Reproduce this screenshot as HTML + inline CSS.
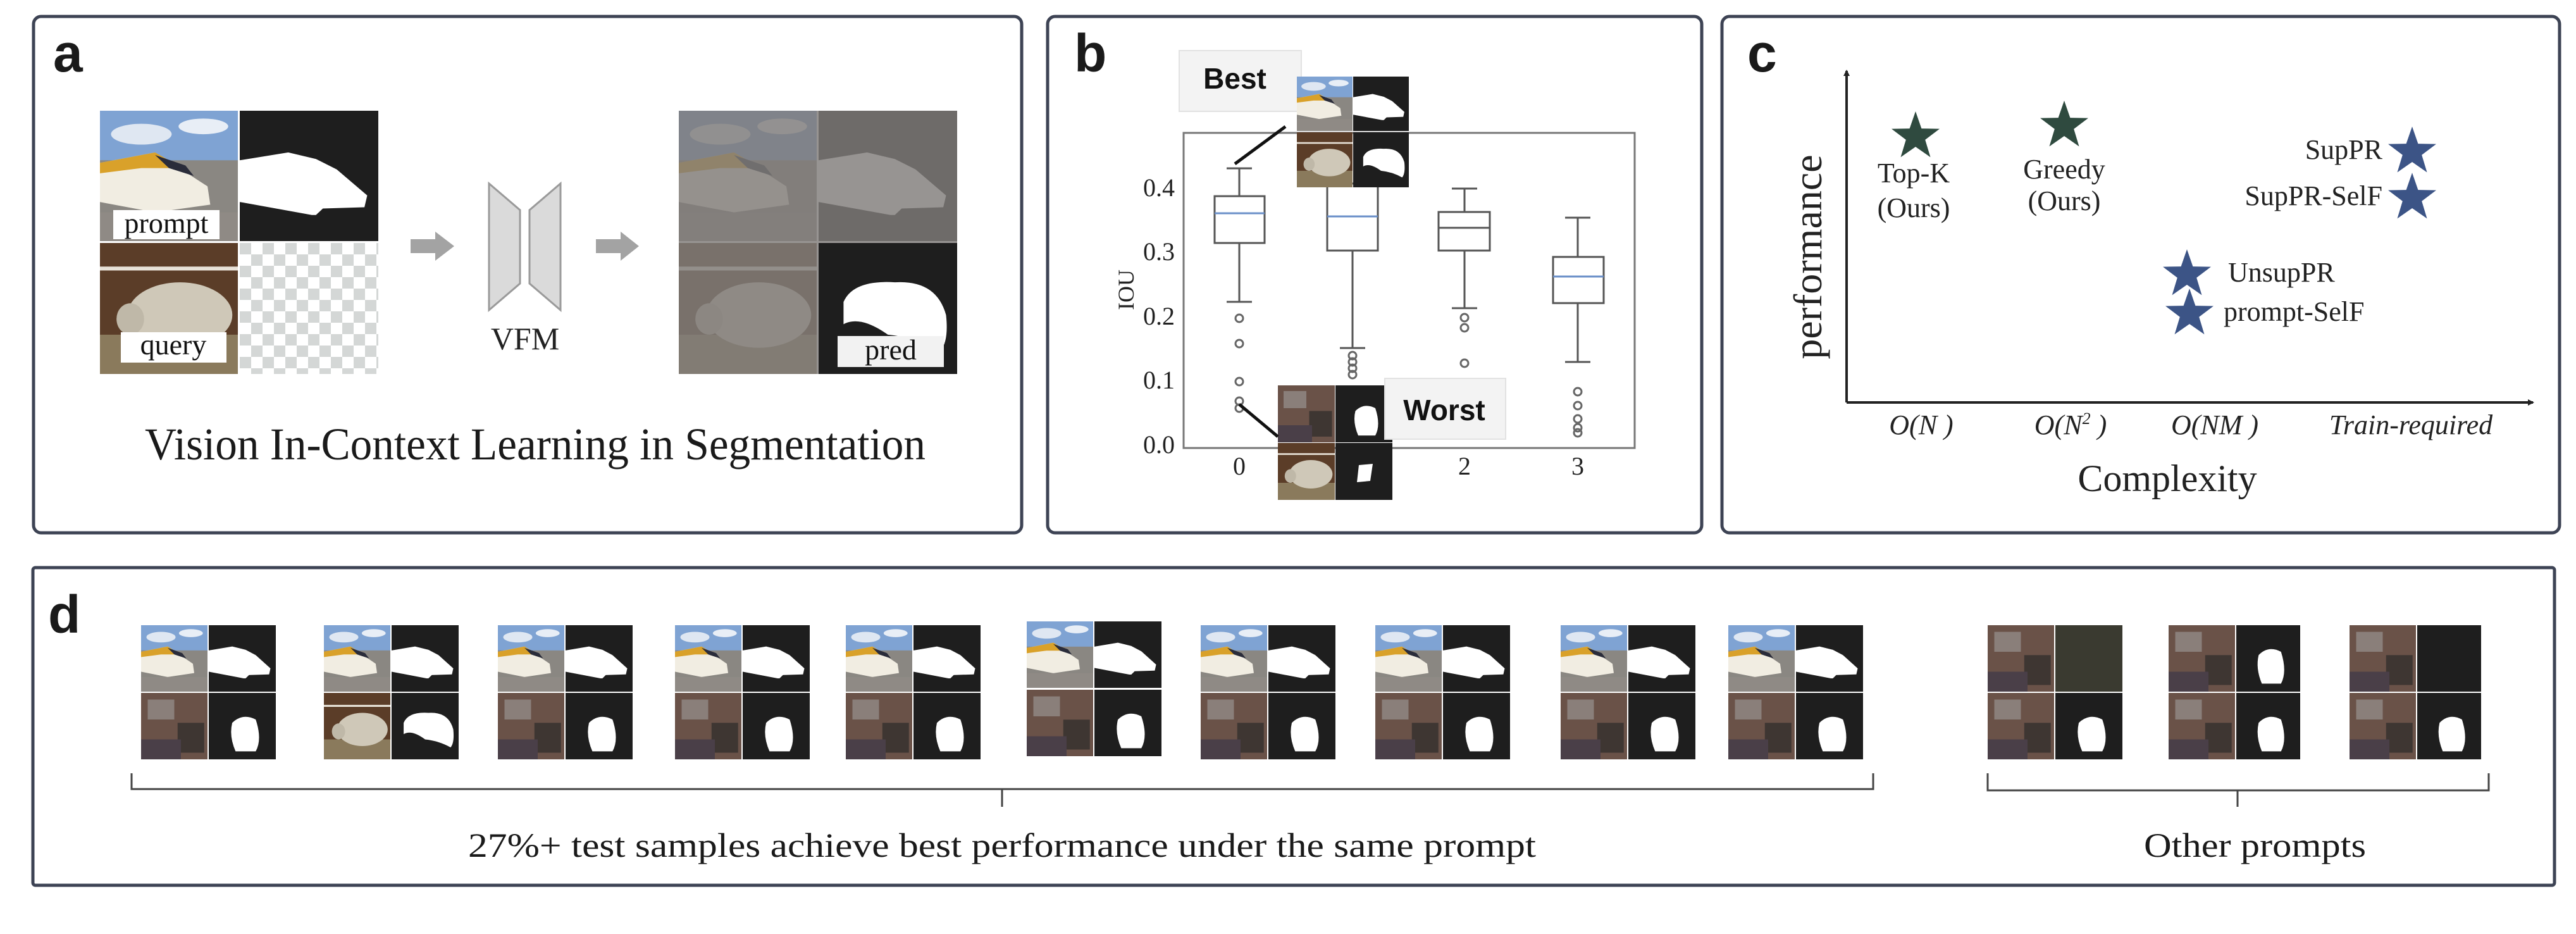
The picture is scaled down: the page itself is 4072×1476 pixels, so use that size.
<!DOCTYPE html>
<html><head><meta charset="utf-8"><style>
html,body{margin:0;padding:0;background:#fff;}
svg{display:block;}
.serif{font-family:"Liberation Serif",serif;}
.sans{font-family:"Liberation Sans",sans-serif;}
</style></head><body>
<svg width="4072" height="1476" viewBox="0 0 4072 1476" xmlns="http://www.w3.org/2000/svg">
<defs>
<symbol id="train" viewBox="0 0 100 100" preserveAspectRatio="none">
<rect width="100" height="100" fill="#8a8782"/>
<rect width="100" height="38" fill="#7fa3d3"/>
<ellipse cx="30" cy="18" rx="22" ry="8" fill="#dfe7f2"/>
<ellipse cx="75" cy="12" rx="18" ry="6" fill="#e8eef6"/>
<polygon points="0,40 40,32 78,58 80,72 40,78 0,70" fill="#f1ede2"/>
<polygon points="0,40 40,32 60,44 30,44 0,48" fill="#d9a12a"/>
<polygon points="40,34 62,42 68,50 50,44" fill="#2a2c3a"/>
<rect y="78" width="100" height="22" fill="#8f8a85"/>
</symbol>
<symbol id="trainmask" viewBox="0 0 100 100" preserveAspectRatio="none">
<rect width="100" height="100" fill="#1e1e1e"/>
<polygon points="0,38 35,32 55,37 70,45 92,65 90,74 60,75 55,80 52,80 0,70" fill="#fff"/>
</symbol>
<symbol id="sheep" viewBox="0 0 100 100" preserveAspectRatio="none">
<rect width="100" height="100" fill="#5b3d28"/>
<rect y="18" width="100" height="3" fill="#e8e2d8"/>
<rect y="70" width="100" height="30" fill="#8a7a5c"/>
<ellipse cx="58" cy="55" rx="38" ry="25" fill="#cfc8b8"/>
<ellipse cx="22" cy="58" rx="10" ry="12" fill="#bfb8a8"/>
</symbol>
<symbol id="sheepmask" viewBox="0 0 100 100" preserveAspectRatio="none">
<rect width="100" height="100" fill="#1e1e1e"/>
<path d="M18,45 Q25,28 55,30 Q85,28 92,55 Q94,75 88,82 Q70,72 50,70 Q30,55 18,62 Z" fill="#fff"/>
</symbol>
<symbol id="misc" viewBox="0 0 100 100" preserveAspectRatio="none">
<rect width="100" height="100" fill="#6a5248"/>
<rect x="10" y="10" width="40" height="30" fill="#8a7f7a"/>
<rect x="55" y="45" width="40" height="45" fill="#3e3632"/>
<rect y="70" width="60" height="30" fill="#4a3f48"/>
</symbol>
<symbol id="miscmask" viewBox="0 0 100 100" preserveAspectRatio="none">
<rect width="100" height="100" fill="#1e1e1e"/>
<path d="M35,45 Q50,30 70,40 Q80,70 70,88 L40,88 Q30,65 35,45 Z" fill="#fff"/>
</symbol>
<pattern id="chk" width="36" height="36" patternUnits="userSpaceOnUse" x="379" y="384">
<rect width="36" height="36" fill="#fff"/><rect width="18" height="18" fill="#d4d7d6"/><rect x="18" y="18" width="18" height="18" fill="#d4d7d6"/>
</pattern>
<marker id="ah" markerWidth="10" markerHeight="10" refX="8" refY="5" orient="auto" markerUnits="userSpaceOnUse"><path d="M0,0 L10,5 L0,10 Z" fill="#222"/></marker>
<polygon id="star" points="0,-40 9.4,-12.9 38,-12.4 15.2,4.9 23.5,32.4 0,16 -23.5,32.4 -15.2,4.9 -38,-12.4 -9.4,-12.9"/>
</defs>

<!-- Panel frames -->
<g fill="#fff" stroke="#3d4354" stroke-width="5">
<rect x="53" y="26" width="1562" height="816" rx="12"/>
<rect x="1656" y="26" width="1034" height="816" rx="12"/>
<rect x="2722" y="26" width="1324" height="816" rx="12"/>
<rect x="52" y="897" width="3986" height="502" rx="4"/>
</g>
<g class="sans" font-weight="bold" font-size="84" fill="#1a1a1a">
<text x="84" y="113">a</text>
<text x="1698" y="113">b</text>
<text x="2762" y="113">c</text>
<text x="76" y="1000">d</text>
</g>

<!-- Panel a -->
<use href="#train" x="158" y="175" width="218" height="206"/>
<use href="#trainmask" x="379" y="175" width="219" height="206"/>
<use href="#sheep" x="158" y="384" width="218" height="207"/>
<rect x="379" y="384" width="219" height="207" fill="url(#chk)"/>
<rect x="179" y="332" width="168" height="46" fill="#fff"/>
<rect x="191" y="525" width="167" height="48" fill="#fff"/>
<text class="serif" x="263" y="368" font-size="46" text-anchor="middle" fill="#111">prompt</text>
<text class="serif" x="274" y="560" font-size="46" text-anchor="middle" fill="#111">query</text>
<polygon points="649,378 688,378 688,366 718,389 688,412 688,400 649,400" fill="#a3a3a3"/>
<polygon points="942,378 981,378 981,366 1010,389 981,412 981,400 942,400" fill="#a3a3a3"/>
<polygon points="773,290 822,332 822,448 773,490" fill="#dadada" stroke="#9a9a9a" stroke-width="3"/>
<polygon points="886,290 837,332 837,448 886,490" fill="#dadada" stroke="#9a9a9a" stroke-width="3"/>
<text class="serif" x="830" y="552" font-size="50" text-anchor="middle" fill="#222">VFM</text>
<use href="#train" x="1073" y="175" width="218" height="206"/>
<use href="#trainmask" x="1294" y="175" width="219" height="206"/>
<use href="#sheep" x="1073" y="384" width="218" height="207"/>
<rect x="1073" y="175" width="440" height="416" fill="#807c7a" opacity="0.82"/>
<use href="#sheepmask" x="1294" y="384" width="219" height="207"/>
<rect x="1324" y="531" width="168" height="49" fill="#f2f2f2"/>
<text class="serif" x="1408" y="568" font-size="46" text-anchor="middle" fill="#111">pred</text>
<text class="serif" x="846" y="726" font-size="72" text-anchor="middle" fill="#1a1a1a" textLength="1234" lengthAdjust="spacingAndGlyphs">Vision In-Context Learning in Segmentation</text>

<!-- Panel b -->
<rect x="1871" y="210" width="713" height="498" fill="none" stroke="#777" stroke-width="3"/>
<g class="serif" font-size="40" fill="#222" text-anchor="end">
<text x="1857" y="310">0.4</text><text x="1857" y="411">0.3</text><text x="1857" y="513">0.2</text><text x="1857" y="614">0.1</text><text x="1857" y="716">0.0</text>
</g>
<g class="serif" font-size="40" fill="#222" text-anchor="middle">
<text x="1959" y="750">0</text><text x="2315" y="750">2</text><text x="2494" y="750">3</text>
</g>
<text class="serif" font-size="36" fill="#222" text-anchor="middle" transform="translate(1792,458) rotate(-90)">IOU</text>
<g stroke="#555" stroke-width="3" fill="#fff">
<line x1="1959" y1="266" x2="1959" y2="477"/><line x1="1939" y1="266" x2="1979" y2="266"/><line x1="1939" y1="477" x2="1979" y2="477"/>
<rect x="1920" y="310" width="79" height="74"/>
<line x1="2138" y1="396" x2="2138" y2="550"/><line x1="2118" y1="550" x2="2158" y2="550"/>
<rect x="2098" y="290" width="80" height="106"/>
<line x1="2315" y1="298" x2="2315" y2="487"/><line x1="2295" y1="298" x2="2335" y2="298"/><line x1="2295" y1="487" x2="2335" y2="487"/>
<rect x="2274" y="335" width="81" height="61"/>
<line x1="2494" y1="344" x2="2494" y2="572"/><line x1="2474" y1="344" x2="2514" y2="344"/><line x1="2474" y1="572" x2="2514" y2="572"/>
<rect x="2455" y="406" width="80" height="73"/>
</g>
<g stroke="#6a8fc8" stroke-width="3">
<line x1="1920" y1="337" x2="1999" y2="337"/><line x1="2098" y1="342" x2="2178" y2="342"/><line x1="2455" y1="437" x2="2535" y2="437"/>
</g>
<line x1="2274" y1="360" x2="2355" y2="360" stroke="#555" stroke-width="3"/>
<g fill="none" stroke="#666" stroke-width="3">
<circle cx="1959" cy="503" r="6"/><circle cx="1959" cy="543" r="6"/><circle cx="1959" cy="603" r="6"/><circle cx="1959" cy="634" r="6"/><circle cx="1959" cy="645" r="6"/>
<circle cx="2138" cy="562" r="6"/><circle cx="2138" cy="572" r="6"/><circle cx="2138" cy="582" r="6"/><circle cx="2138" cy="592" r="6"/>
<circle cx="2315" cy="502" r="6"/><circle cx="2315" cy="518" r="6"/><circle cx="2315" cy="574" r="6"/>
<circle cx="2494" cy="619" r="6"/><circle cx="2494" cy="641" r="6"/><circle cx="2494" cy="662" r="6"/><circle cx="2494" cy="676" r="6"/><circle cx="2494" cy="684" r="6"/>
</g>
<rect x="1864" y="80" width="193" height="96" fill="#f3f3f3" stroke="#e2e2e2" stroke-width="2"/>
<text class="sans" font-weight="bold" x="1952" y="140" font-size="46" text-anchor="middle" fill="#111">Best</text>
<use href="#train" x="2050" y="121" width="88" height="86"/>
<use href="#trainmask" x="2139" y="121" width="88" height="86"/>
<use href="#sheep" x="2050" y="209" width="88" height="87"/>
<use href="#sheepmask" x="2139" y="209" width="88" height="87"/>
<line x1="1952" y1="259" x2="2032" y2="200" stroke="#111" stroke-width="5"/>
<use href="#misc" x="2020" y="609" width="90" height="90"/>
<use href="#miscmask" x="2111" y="609" width="90" height="90"/>
<use href="#sheep" x="2020" y="700" width="90" height="90"/>
<rect x="2111" y="700" width="90" height="90" fill="#1e1e1e"/>
<polygon points="2148,735 2170,733 2166,760 2145,762" fill="#fff"/>
<rect x="2189" y="598" width="191" height="96" fill="#f3f3f3" stroke="#e2e2e2" stroke-width="2"/>
<text class="sans" font-weight="bold" x="2283" y="664" font-size="46" text-anchor="middle" fill="#111">Worst</text>
<line x1="1959" y1="639" x2="2020" y2="690" stroke="#111" stroke-width="5"/>

<!-- Panel c -->
<line x1="2919" y1="636" x2="2919" y2="112" stroke="#222" stroke-width="4" marker-end="url(#ah)"/>
<line x1="2919" y1="636" x2="4004" y2="636" stroke="#222" stroke-width="4" marker-end="url(#ah)"/>
<text class="serif" font-size="64" fill="#222" text-anchor="middle" transform="translate(2879,406) rotate(-90)">performance</text>
<g fill="#2f4a3f"><use href="#star" transform="translate(3028,216)"/><use href="#star" transform="translate(3263,199)"/></g>
<g fill="#3c5486"><use href="#star" transform="translate(3813,240)"/><use href="#star" transform="translate(3813,313)"/><use href="#star" transform="translate(3457,434)"/><use href="#star" transform="translate(3461,496)"/></g>
<g class="serif" font-size="44" fill="#222">
<text x="3025" y="288" text-anchor="middle">Top-K</text>
<text x="3025" y="343" text-anchor="middle">(Ours)</text>
<text x="3263" y="282" text-anchor="middle">Greedy</text>
<text x="3263" y="332" text-anchor="middle">(Ours)</text>
<text x="3766" y="251" text-anchor="end">SupPR</text>
<text x="3766" y="324" text-anchor="end">SupPR-SelF</text>
<text x="3522" y="445">UnsupPR</text>
<text x="3515" y="507">prompt-SelF</text>
</g>
<g class="serif" font-size="44" fill="#222" font-style="italic" text-anchor="middle">
<text x="3037" y="686">O(N )</text>
<text x="3273" y="686">O(N<tspan font-size="26" dy="-16">2</tspan><tspan dy="16"> )</tspan></text>
<text x="3501" y="686">O(NM )</text>
<text x="3811" y="686">Train-required</text>
</g>
<text class="serif" x="3426" y="776" font-size="60" text-anchor="middle" fill="#222">Complexity</text>

<!-- Panel d -->
<g>
<use href="#train" x="223" y="988" width="105" height="105"/><use href="#trainmask" x="330" y="988" width="106" height="105"/>
<use href="#misc" x="223" y="1095" width="105" height="105"/><use href="#miscmask" x="330" y="1095" width="106" height="105"/>
<use href="#train" x="512" y="988" width="105" height="105"/><use href="#trainmask" x="619" y="988" width="106" height="105"/>
<use href="#sheep" x="512" y="1095" width="105" height="105"/><use href="#sheepmask" x="619" y="1095" width="106" height="105"/>
<use href="#train" x="787" y="988" width="105" height="105"/><use href="#trainmask" x="894" y="988" width="106" height="105"/>
<use href="#misc" x="787" y="1095" width="105" height="105"/><use href="#miscmask" x="894" y="1095" width="106" height="105"/>
<use href="#train" x="1067" y="988" width="105" height="105"/><use href="#trainmask" x="1174" y="988" width="106" height="105"/>
<use href="#misc" x="1067" y="1095" width="105" height="105"/><use href="#miscmask" x="1174" y="1095" width="106" height="105"/>
<use href="#train" x="1337" y="988" width="105" height="105"/><use href="#trainmask" x="1444" y="988" width="106" height="105"/>
<use href="#misc" x="1337" y="1095" width="105" height="105"/><use href="#miscmask" x="1444" y="1095" width="106" height="105"/>
<use href="#train" x="1623" y="982" width="105" height="105"/><use href="#trainmask" x="1730" y="982" width="106" height="105"/>
<use href="#misc" x="1623" y="1090" width="105" height="105"/><use href="#miscmask" x="1730" y="1090" width="106" height="105"/>
<use href="#train" x="1898" y="988" width="105" height="105"/><use href="#trainmask" x="2005" y="988" width="106" height="105"/>
<use href="#misc" x="1898" y="1095" width="105" height="105"/><use href="#miscmask" x="2005" y="1095" width="106" height="105"/>
<use href="#train" x="2174" y="988" width="105" height="105"/><use href="#trainmask" x="2281" y="988" width="106" height="105"/>
<use href="#misc" x="2174" y="1095" width="105" height="105"/><use href="#miscmask" x="2281" y="1095" width="106" height="105"/>
<use href="#train" x="2467" y="988" width="105" height="105"/><use href="#trainmask" x="2574" y="988" width="106" height="105"/>
<use href="#misc" x="2467" y="1095" width="105" height="105"/><use href="#miscmask" x="2574" y="1095" width="106" height="105"/>
<use href="#train" x="2732" y="988" width="105" height="105"/><use href="#trainmask" x="2839" y="988" width="106" height="105"/>
<use href="#misc" x="2732" y="1095" width="105" height="105"/><use href="#miscmask" x="2839" y="1095" width="106" height="105"/>
<use href="#misc" x="3142" y="988" width="105" height="105"/><rect x="3249" y="988" width="106" height="105" fill="#3a3a30"/>
<use href="#misc" x="3142" y="1095" width="105" height="105"/><use href="#miscmask" x="3249" y="1095" width="106" height="105"/>
<use href="#misc" x="3428" y="988" width="105" height="105"/><use href="#miscmask" x="3535" y="988" width="101" height="105"/>
<use href="#misc" x="3428" y="1095" width="105" height="105"/><use href="#miscmask" x="3535" y="1095" width="101" height="105"/>
<use href="#misc" x="3714" y="988" width="105" height="105"/><rect x="3821" y="988" width="101" height="105" fill="#1e1e1e"/>
<use href="#misc" x="3714" y="1095" width="105" height="105"/><use href="#miscmask" x="3821" y="1095" width="101" height="105"/>
</g>
<g stroke="#444" stroke-width="3" fill="none">
<polyline points="208,1222 208,1247 2961,1247 2961,1222"/>
<line x1="1584" y1="1247" x2="1584" y2="1275"/>
<polyline points="3142,1222 3142,1249 3934,1249 3934,1222"/>
<line x1="3537" y1="1249" x2="3537" y2="1275"/>
</g>
<text class="serif" x="740" y="1354" font-size="54" fill="#1a1a1a" textLength="1688" lengthAdjust="spacingAndGlyphs">27%+  test samples achieve best performance under the same prompt</text>
<text class="serif" x="3389" y="1354" font-size="54" fill="#1a1a1a" textLength="351" lengthAdjust="spacingAndGlyphs">Other prompts</text>
</svg>
</body></html>
